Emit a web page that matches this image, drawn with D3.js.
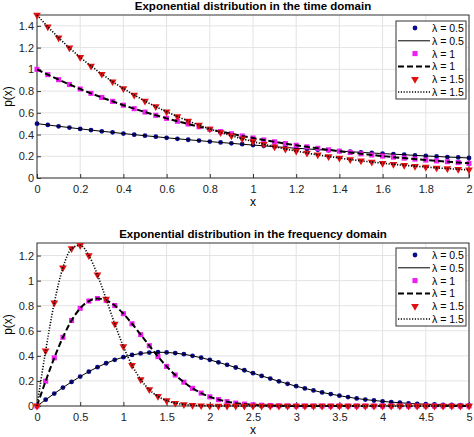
<!DOCTYPE html>
<html><head><meta charset="utf-8">
<script src="https://cdn.jsdelivr.net/npm/d3@7"></script>
<style>body{margin:0;background:#fff}text{font-family:"Liberation Sans",Arial,sans-serif}</style>
</head><body><svg id="c" width="474" height="437"></svg>
<script>
// time domain: x = 0..2 step 0.05
var timeX = d3.range(41).map(function (i) { return i * 0.05 })
var timeL05 = [.5,.488,.476,.464,.452,.441,.430,.420,.409,.399,.389,.380,.370,.361,.352,.344,.335,.327,.319,.311,.303,.296,.288,.281,.274,.268,.261,.255,.248,.242,.236,.230,.225,.219,.214,.208,.203,.198,.193,.189,.184]
var timeL1 = [1,.951,.905,.861,.819,.779,.741,.705,.670,.638,.607,.577,.549,.522,.497,.472,.449,.427,.407,.387,.368,.350,.333,.317,.301,.287,.273,.259,.247,.235,.223,.212,.202,.192,.183,.174,.165,.157,.150,.142,.135]
var timeL15 = [1.5,1.392,1.291,1.198,1.111,1.031,.956,.887,.823,.764,.708,.657,.610,.566,.525,.487,.452,.419,.389,.361,.335,.311,.288,.267,.248,.230,.213,.198,.184,.170,.158,.147,.136,.126,.117,.109,.101,.093,.087,.080,.075]
// frequency domain: x = 0..5 step 0.1
var freqX = d3.range(51).map(function (i) { return i * 0.1 })
var freqL05 = [0,.050,.099,.147,.192,.235,.274,.310,.341,.368,.389,.407,.419,.426,.429,.427,.422,.413,.400,.385,.368,.348,.328,.307,.285,.262,.240,.219,.197,.177,.158,.140,.124,.108,.095,.082,.071,.060,.051,.044,.037,.031,.026,.021,.017,.014,.012,.009,.008,.006,.005]
var freqL1 = [0,.198,.384,.548,.682,.779,.837,.857,.843,.801,.736,.656,.569,.481,.394,.316,.247,.190,.141,.103,.073,.051,.035,.023,.015,.010,.006,.004,.002,.001,0,0,0,0,0,0,0,0,0,0,0,0,0,0,0,0,0,0,0,0,0]
var freqL15 = [0,.440,.823,1.103,1.256,1.282,1.201,1.046,.853,.655,.474,.325,.212,.131,.077,.043,.023,.012,.006,.003,.001,0,0,0,0,0,0,0,0,0,0,0,0,0,0,0,0,0,0,0,0,0,0,0,0,0,0,0,0,0,0]
var legendLabels = ['λ = 0.5', 'λ = 0.5', 'λ = 1', 'λ = 1', 'λ = 1.5', 'λ = 1.5']

var svg = d3.select('#c')
var CIRC = 18, SQ = 26, TRI = 26

function panel (opt) {
  var x = d3.scaleLinear().domain(opt.xd).range([37, 469])
  var y = d3.scaleLinear().domain(opt.yd).range([opt.bottom, opt.top])
  var g = svg.append('g')
  // grid
  g.selectAll('line.gx').data(opt.xt).enter().append('line')
    .attr('x1', d => x(d)).attr('x2', d => x(d)).attr('y1', opt.top).attr('y2', opt.bottom)
    .attr('stroke', '#e3e3e3')
  g.selectAll('line.gy').data(opt.yt).enter().append('line')
    .attr('x1', 37).attr('x2', 469).attr('y1', d => y(d)).attr('y2', d => y(d))
    .attr('stroke', '#e3e3e3')
  var xa = g.append('g').attr('transform', 'translate(0,' + opt.bottom + ')')
    .call(d3.axisBottom(x).tickValues(opt.xt).tickSize(-4).tickFormat(d3.format('~g')))
  var ya = g.append('g').attr('transform', 'translate(37,0)')
    .call(d3.axisLeft(y).tickValues(opt.yt).tickSize(-4).tickFormat(d3.format('~g')))
  ;[xa, ya].forEach(function (a) {
    a.select('.domain').remove()
    a.selectAll('text').attr('font-size', 11).attr('fill', '#222')
    a.selectAll('line').attr('stroke', '#333')
  })
  xa.selectAll('text').attr('dy', '1.1em')
  g.append('rect').attr('x', 37).attr('y', opt.top).attr('width', 432).attr('height', opt.bottom - opt.top)
    .attr('fill', 'none').attr('stroke', '#333')
  g.append('text').attr('x', 253).attr('y', opt.top - 5).attr('text-anchor', 'middle')
    .attr('font-size', 11.5).attr('font-weight', 'bold').text(opt.title)
  g.append('text').attr('x', 253).attr('y', opt.bottom + 28).attr('text-anchor', 'middle')
    .attr('font-size', 12).text('x')
  g.append('text').attr('transform', 'translate(12,' + ((opt.top + opt.bottom) / 2) + ') rotate(-90)')
    .attr('text-anchor', 'middle').attr('font-size', 12).text('p(x)')

  var line = d3.line().x(d => x(d[0])).y(d => y(d[1])).curve(d3.curveMonotoneX)
  var sers = opt.series.map(s => opt.xs.map((v, i) => [v, s[i]]))
  var plot = g.append('g')
  function markers (data, type, size, col) {
    var sym = d3.symbol().type(type).size(size)
    plot.selectAll(null).data(data).enter().append('path')
      .attr('d', sym).attr('fill', col)
      .attr('transform', d => 'translate(' + x(d[0]) + ',' + y(d[1]) + ')' + (type === d3.symbolTriangle ? ' rotate(180)' : ''))
  }
  markers(sers[0], d3.symbolCircle, CIRC, '#0a0a8c')
  plot.append('path').attr('d', line(sers[0])).attr('fill', 'none').attr('stroke', '#000').attr('stroke-width', 1)
  markers(sers[1], d3.symbolSquare, SQ, '#f01ef0')
  plot.append('path').attr('d', line(sers[1])).attr('fill', 'none').attr('stroke', '#000').attr('stroke-width', 2).attr('stroke-dasharray', '6,3')
  markers(sers[2], d3.symbolTriangle, TRI, '#e01010')
  plot.append('path').attr('d', line(sers[2])).attr('fill', 'none').attr('stroke', '#000').attr('stroke-width', 1.6).attr('stroke-dasharray', '1.2,1.6')

  // legend
  var lx = 396, ly = opt.legTop
  g.append('rect').attr('x', lx).attr('y', ly).attr('width', 70).attr('height', 78)
    .attr('fill', '#fff').attr('stroke', '#333')
  legendLabels.forEach(function (t, i) {
    var cy = ly + 7 + i * 12.8
    var cx = lx + 19
    if (i === 0) g.append('path').attr('d', d3.symbol().type(d3.symbolCircle).size(CIRC)).attr('fill', '#0a0a8c').attr('transform', 'translate(' + cx + ',' + cy + ')')
    if (i === 2) g.append('path').attr('d', d3.symbol().type(d3.symbolSquare).size(SQ)).attr('fill', '#f01ef0').attr('transform', 'translate(' + cx + ',' + cy + ')')
    if (i === 4) g.append('path').attr('d', d3.symbol().type(d3.symbolTriangle).size(TRI)).attr('fill', '#e01010').attr('transform', 'translate(' + cx + ',' + cy + ') rotate(180)')
    if (i === 1) g.append('line').attr('x1', lx + 2).attr('x2', lx + 34).attr('y1', cy).attr('y2', cy).attr('stroke', '#000')
    if (i === 3) g.append('line').attr('x1', lx + 2).attr('x2', lx + 34).attr('y1', cy).attr('y2', cy).attr('stroke', '#000').attr('stroke-width', 2).attr('stroke-dasharray', '6,3')
    if (i === 5) g.append('line').attr('x1', lx + 2).attr('x2', lx + 34).attr('y1', cy).attr('y2', cy).attr('stroke', '#000').attr('stroke-width', 1.6).attr('stroke-dasharray', '1.2,1.6')
    g.append('text').attr('x', lx + 36).attr('y', cy + 4).attr('font-size', 10.5).text(t)
  })
}

panel({ title: 'Exponential distribution in the time domain', top: 15, bottom: 178, xd: [0, 2], yd: [0, 1.5],
  xt: d3.range(0, 2.01, 0.2).map(v => +v.toFixed(1)), yt: d3.range(0, 1.41, 0.2).map(v => +v.toFixed(1)),
  xs: timeX, series: [timeL05, timeL1, timeL15], legTop: 21 })
panel({ title: 'Exponential distribution in the frequency domain', top: 243, bottom: 406, xd: [0, 5], yd: [0, 1.3],
  xt: d3.range(0, 5.01, 0.5).map(v => +v.toFixed(1)), yt: d3.range(0, 1.21, 0.2).map(v => +v.toFixed(1)),
  xs: freqX, series: [freqL05, freqL1, freqL15], legTop: 248 })
</script></body></html>
